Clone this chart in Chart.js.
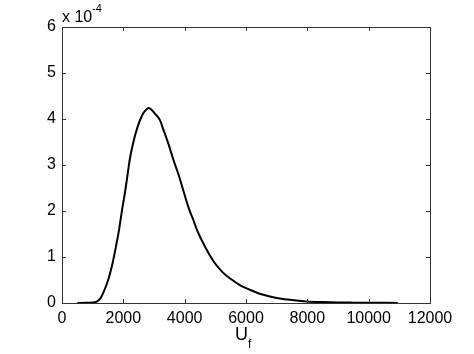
<!DOCTYPE html>
<html>
<head>
<meta charset="utf-8">
<script src="https://cdn.jsdelivr.net/npm/chart.js@4/dist/chart.umd.min.js"></script>
<style>
  html, body { margin: 0; padding: 0; background: #fff; }
</style>
</head>
<body>
<canvas id="chart" width="474" height="354"></canvas>
<script>
// density curve, y in units of 1e-4
const uf = [500, 800, 1000, 1130, 1250, 1345, 1510, 1650, 1760, 1860, 1960, 2050, 2130, 2210,
  2320, 2470, 2600, 2700, 2830, 2920, 3050, 3190, 3320, 3460, 3630, 3820, 3980, 4150, 4280,
  4400, 4660, 4980, 5250, 5530, 5800, 6120, 6450, 6780, 7100, 7430, 7970, 8500, 9000, 9500,
  10000, 10500, 10950];
const density = [0, 0.005, 0.01, 0.03, 0.1, 0.22, 0.51, 0.87, 1.23, 1.59, 2.03, 2.39, 2.75, 3.12,
  3.48, 3.84, 4.06, 4.17, 4.24, 4.2, 4.1, 3.98, 3.74, 3.48, 3.12, 2.75, 2.39, 2.03, 1.81,
  1.59, 1.23, 0.87, 0.66, 0.51, 0.39, 0.29, 0.2, 0.14, 0.1, 0.07, 0.035, 0.02, 0.012, 0.008,
  0.005, 0.003, 0.002];
const xTicks = [0, 2000, 4000, 6000, 8000, 10000, 12000];
const yTicks = [0, 1, 2, 3, 4, 5, 6];

const FONT = "'Liberation Sans', Arial, sans-serif";
const AXIS = "#333";

// matlab style box, inward ticks and the extra labels
const matlabBox = {
  id: "matlabBox",
  afterDraw(chart) {
    const { ctx, chartArea: a, scales } = chart;
    const x = scales.x, y = scales.y;
    ctx.save();
    ctx.strokeStyle = AXIS;
    ctx.lineWidth = 1;
    ctx.strokeRect(a.left + 0.5, a.top + 0.5, a.right - a.left, a.bottom - a.top);
    ctx.beginPath();
    xTicks.forEach(v => {
      const px = Math.round(x.getPixelForValue(v)) + 0.5;
      ctx.moveTo(px, a.bottom); ctx.lineTo(px, a.bottom - 4);
      ctx.moveTo(px, a.top); ctx.lineTo(px, a.top + 4);
    });
    yTicks.forEach(v => {
      const py = Math.round(y.getPixelForValue(v)) + 0.5;
      ctx.moveTo(a.left, py); ctx.lineTo(a.left + 4, py);
      ctx.moveTo(a.right, py); ctx.lineTo(a.right - 4, py);
    });
    ctx.stroke();

    ctx.fillStyle = "#000";
    ctx.textBaseline = "alphabetic";
    ctx.textAlign = "left";
    ctx.font = "16px " + FONT;
    ctx.fillText("x 10", 62, 22);
    ctx.font = "11px " + FONT;
    ctx.fillText("-4", 92, 12);

    ctx.font = "18px " + FONT;
    ctx.fillText("U", 235, 340);
    ctx.font = "12px " + FONT;
    ctx.fillText("f", 248, 348);
    ctx.restore();
  }
};

new Chart(document.getElementById("chart"), {
  type: "line",
  data: {
    datasets: [{
      data: uf.map((u, i) => ({ x: u, y: density[i] })),
      borderColor: "#000",
      borderWidth: 2,
      pointRadius: 0,
      cubicInterpolationMode: "monotone",
      fill: false,
    }],
  },
  options: {
    responsive: false,
    animation: false,
    layout: { padding: { top: 27, right: 44, left: 0, bottom: 0 } },
    plugins: { legend: { display: false }, tooltip: { enabled: false } },
    scales: {
      x: {
        type: "linear",
        min: 0,
        max: 12000,
        afterFit: s => { s.height = 51; },
        afterBuildTicks: s => { s.ticks = xTicks.map(v => ({ value: v })); },
        grid: { display: false, drawTicks: false },
        border: { display: false },
        ticks: { color: "#000", font: { family: FONT, size: 16 }, padding: 6, maxRotation: 0,
          callback: v => String(v) },
      },
      y: {
        type: "linear",
        min: 0,
        max: 6,
        afterFit: s => { s.width = 62; },
        afterBuildTicks: s => { s.ticks = yTicks.map(v => ({ value: v })); },
        grid: { display: false, drawTicks: false },
        border: { display: false },
        ticks: { color: "#000", font: { family: FONT, size: 16 }, padding: 6,
          callback: v => String(v) },
      },
    },
  },
  plugins: [matlabBox],
});
</script>
</body>
</html>
